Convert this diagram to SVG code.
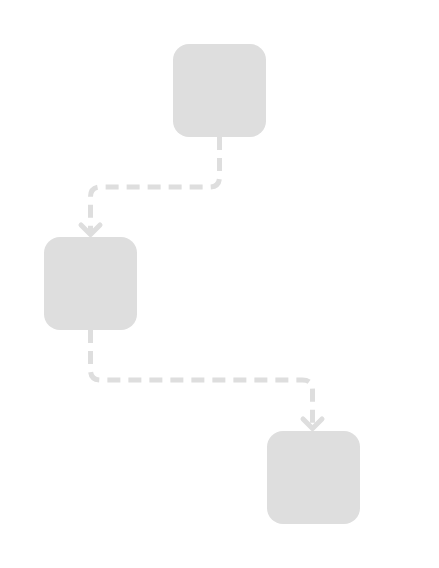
<svg xmlns="http://www.w3.org/2000/svg" width="439" height="568" viewBox="0 0 439 568">
<defs>
<style>
.node{fill:#dedede;}
.edge{fill:none;stroke:#dedede;stroke-width:5;stroke-dasharray:13 8;}
.head{fill:none;stroke:#dedede;stroke-width:5;stroke-linecap:round;stroke-linejoin:round;}
</style>
</defs>
<rect width="439" height="568" fill="#ffffff"/>
<g id="connectors">
<path class="edge" d="M219.5,137 V177 Q219.5,187 209.5,187 H100.5 Q90.5,187 90.5,197 V233"/>
<path class="head" d="M81,225 L90.5,234.5 L100,225"/>
<path class="edge" d="M90.5,330 V370 Q90.5,380 100.5,380 H302.5 Q312.5,380 312.5,390 V427"/>
<path class="head" d="M303,419 L312.5,428.5 L322,419"/>
</g>
<g id="node1"><rect class="node" x="173" y="44" width="93" height="93" rx="16"/></g>
<g id="node2"><rect class="node" x="44" y="237" width="93" height="93" rx="16"/></g>
<g id="node3"><rect class="node" x="267" y="431" width="93" height="93" rx="16"/></g>
</svg>
